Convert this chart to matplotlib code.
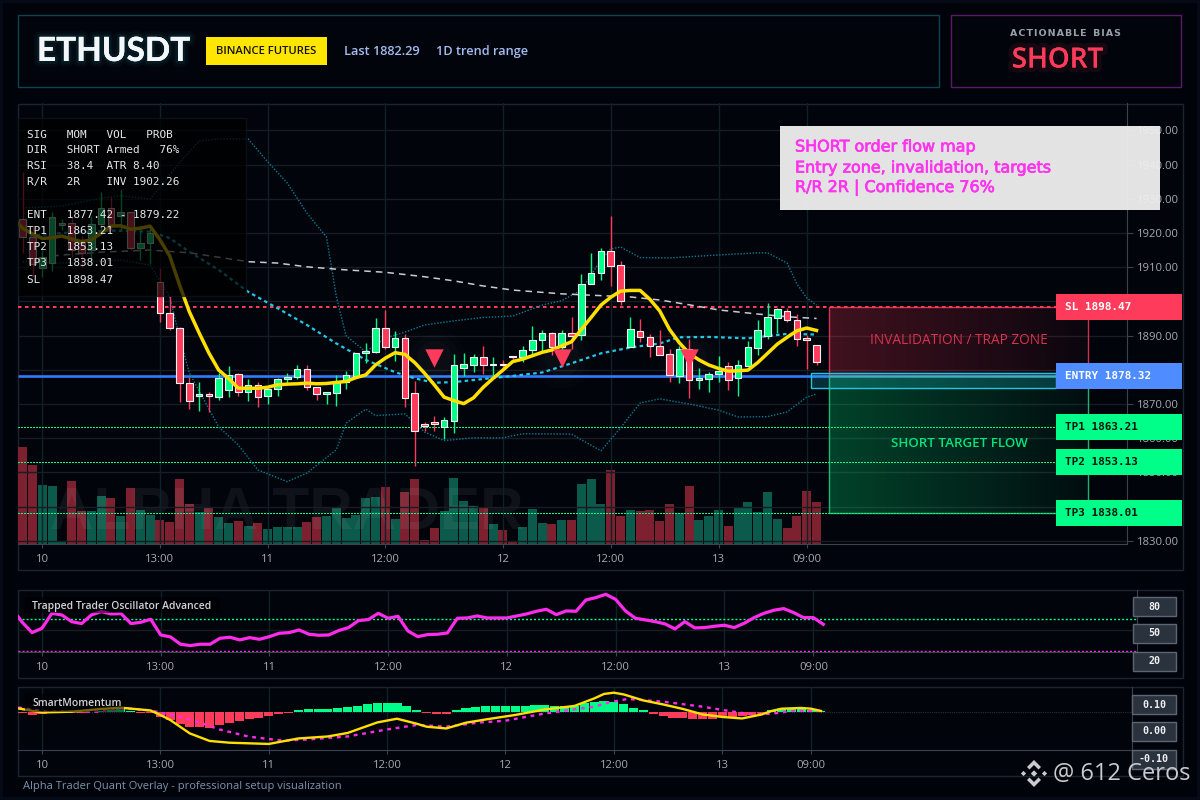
#%% Imports
import numpy as np
import matplotlib
matplotlib.use("Agg")
import matplotlib.pyplot as plt
import matplotlib.patheffects as pe
from matplotlib.patches import Rectangle, Polygon

#%% Data

# OHLC of the 82 candles
opens = [1924.1,1918.8,1909.8,1911.2,1922.2,1923,1917,1915,1922.6,1927.3,
         1925,1926,1915.6,1917,1905.8,1896.6,1892.3,1876,1872.2,1872.8,
         1872,1874,1878.7,1873.5,1875.5,1872.2,1874.4,1877.3,1877.8,1880.2,
         1875,1873,1873.3,1876.4,1878.3,1884.8,1885.3,1892.1,1886.8,1889.2,
         1873.1,1864,1864.7,1863.2,1865.1,1880.6,1881.5,1883.7,1881.5,1881.6,
         1884,1883.6,1885.7,1888.6,1890.7,1886.8,1890.7,1890.1,1905,1908.2,
         1914.8,1910.5,1886.8,1891.4,1889.7,1887,1884.5,1878.3,1886,1877,
         1877.4,1878.7,1881,1877.7,1881.2,1886.5,1890,1895,1897.3,1894.5,
         1889.3,1887.2]
closes = [1918.8,1910.9,1913,1924.7,1923,1915,1914,1922.6,1927.3,1922.4,
          1926.1,1915.6,1917,1920,1896.6,1892.2,1876,1871,1872.8,1872.2,
          1877.6,1878.5,1873.4,1875.6,1872.1,1874.4,1877.3,1878,1880.2,1875,
          1873,1873.5,1876.4,1878.4,1884.8,1885.4,1892.1,1886.8,1889.2,1871.8,
          1862,1863.5,1864,1865.3,1881.3,1881.6,1883.7,1881.5,1881.6,1881.4,
          1883.6,1885.7,1888.6,1890.7,1886.8,1890.7,1890,1905,1908.2,1914.8,
          1910.4,1900.2,1891.8,1889.7,1887,1884.4,1878.6,1886,1877,1877.6,
          1878.7,1879.6,1877,1881.3,1886.6,1891.5,1895.3,1897.7,1894.5,1889,
          1888.8,1882.29]
highs = [1937.9,1922,1915,1926,1924,1925,1919,1925,1932,1930.5,
         1933,1926.5,1922,1921.5,1909.8,1901.6,1892.5,1878,1876.4,1873.6,
         1879,1881,1879,1877.4,1876.5,1874.7,1877.6,1879,1881.4,1881.3,
         1875,1873.6,1878.5,1879.6,1885,1887.7,1895.1,1897.5,1891.3,1890.5,
         1876.8,1864.7,1866.5,1866.2,1884.6,1884.8,1884.6,1887,1883.7,1882.9,
         1884,1887,1892.8,1891.6,1891,1891.5,1895.3,1908,1914.2,1915.6,
         1925,1911.8,1895.4,1894.8,1890.5,1891.5,1886,1887,1889,1880.6,
         1879.3,1884,1882.3,1882.9,1888.4,1894.6,1899.5,1898.2,1898,1896.3,
         1890.2,1887.2]
lows = [1914.2,1907,1907,1909,1921,1913,1910,1911,1921,1921,
        1921,1915,1912,1911,1894,1891.6,1870.7,1868.5,1868,1867.7,
        1871.2,1872,1872.2,1870.9,1869,1870,1872.3,1876,1877.4,1874,
        1871.2,1870,1869.5,1874.4,1877.5,1882,1885,1886.2,1882.7,1869,
        1852,1862,1862,1859.9,1861.6,1878.3,1879.4,1878.8,1877.6,1880,
        1882.6,1882.4,1884.3,1885.3,1884.3,1885,1886,1888.7,1905,1906.3,
        1904.5,1899,1886.8,1888.1,1883.7,1884.4,1876.5,1876,1871.8,1874.4,
        1873.5,1876.4,1874,1872.2,1881,1884.3,1889,1890.8,1894,1887,
        1880.2,1881.5]
volumes = [97,79.3,59.3,58.3,2.7,63.3,33.3,33.3,48.3,46.3,
           28.3,56.3,34.3,29.3,24.3,22.3,65.3,40.3,32.3,36.3,
           27.3,21.3,23.3,18.3,21.3,15.3,17.3,17.3,17.3,22.3,
           27.3,28.3,37.3,26.3,29.3,46.3,47.3,57.3,25.3,52.3,
           65.3,4.3,16.3,33.3,66.3,43.3,38.3,36.3,20.3,14.3,
           2.3,17.3,35.3,21.3,20.3,24.3,24.3,60.3,65.3,40.3,
           74.3,28.3,34.3,33.3,34.3,23.3,40.3,31.3,58.3,24.3,
           28.3,34.3,18.3,37.3,42.3,32.3,52.3,25.3,16.3,28.3,
           53.3,42.3]

# fast average, one value a candle, plus the stub at the left edge
ema_fast = [1922.6,1921.4,1919.7,1918.4,1918.6,1919.1,1918.2,1917.5,1918,1919.9,1922,
            1922.1,1921.1,1921.4,1922,1918,1913.3,1904.8,1897,1890.8,1884.9,
            1879.9,1877.5,1874.6,1874.6,1874.6,1874.9,1875.6,1875.8,1875.9,1876.1,
            1875.9,1876,1876.3,1876.6,1877.7,1878.5,1881.4,1883.4,1885,1884.5,
            1882.1,1879,1875.6,1872,1871,1870.1,1871.8,1874.9,1877.5,1879.9,
            1882.4,1883.1,1884.1,1885.1,1885.8,1887,1888.2,1891.8,1895.3,1898.9,
            1901.2,1903,1903.2,1903.2,1900.6,1897.2,1891.8,1887.9,1884.8,1882.9,
            1881.4,1880.4,1879.6,1879.7,1879.9,1882.1,1884.8,1887.5,1889.5,1891.4,
            1892.2,1891.5]

# slow cyan average
ema_slow_idx = [0,4,9,13,15,17,20,23,26,29,32,35,38,40,42,44,47,50,53,56,59,62,65,67,70,74,78,81]
ema_slow = [1919,1920,1920.7,1920.4,1918.5,1914.5,1909.2,1902.8,1898,1893.1,1887.7,1882.9,1879.3,
            1877.5,1876.2,1876.4,1877.3,1878.2,1879.2,1881.9,1884.8,1886.5,1887.7,1889.5,1889.6,
            1889.2,1890.5,1890.3]

# grey long average
ema_long_idx = [3,8,13,17,23,26,29,33,37,41,44,47,50,55,58,62,65,68,71,75,78,81]
ema_long = [1913.3,1914.4,1915,1914.2,1911.6,1911.2,1910.1,1909.2,1908.5,1907.2,1906,1904.5,1903.3,
            1902.2,1901.8,1901.3,1900.4,1899,1897.5,1896.3,1895.5,1895]

# bands
upper_idx = [0,4,7.5,10,13,14,16,18,20,23,25,27,29,31,32,33,35,37,39,41,44,47,50,53,55,57,59,60,61,
             63,66,70,75,76,78,79,80,81]
upper_band = [1927.3,1927.9,1929.9,1930.9,1929.9,1933.5,1940.5,1946.9,1947.5,1947.5,1940.8,1934.6,
              1925.8,1918.8,1901.4,1889.9,1885.3,1889.3,1891,1893.1,1894.3,1895.3,1895.7,1898.9,
              1900.2,1903.3,1912.1,1915.3,1915.9,1912.8,1912.7,1913.4,1914.2,1914.2,1911.2,1905.1,
              1901,1898.9]
lower_idx = [0,4,10,13,15,16,17,20,22,24,27,29,32,33,35,36,39,41,43,46,49,51,56,59,61,63,65,68,71,
             73,76,78,80,81]
lower_band = [1911.6,1911.2,1912.1,1910.6,1901.3,1889.6,1879.1,1863.3,1858,1850.7,1847.3,1849.8,
              1856.6,1864.4,1868.5,1866.6,1867.1,1861.8,1859.3,1860.1,1860.1,1861.3,1861.2,1856.3,
              1863,1870.3,1871.5,1870,1868.2,1866.2,1866.3,1867.7,1872,1872.9]

# signals and levels
signal_idx = [42,55,68]
signal_price = [1883.5,1883.5,1883.5]
sl_level = 1898.47
entry_level = 1878.32
tp_levels = [1863.21,1853.13,1838.01]
entry_zone_top = 1879.2
entry_zone_bottom = 1874.8

# oscillator, one value a candle, plus the stub at the left edge
oscillator = [73.4,66.2,53,58.5,77.6,75.5,67,64.5,75.5,79.8,76.8,
              77.2,64.5,66.2,70,50,47.5,38.2,36.5,38.2,38.2,
              45.8,47.1,43.7,46.6,44.5,47.9,52.2,53,56.4,50.9,
              49.6,50,55.6,59.4,68.3,69.6,77.6,71.3,73.8,55.1,
              47.9,50.5,50.9,52.6,71.3,71.7,74.2,71.7,71.7,71.7,
              74.2,76.8,80.2,82.7,75.9,80.6,80.2,94.6,97.6,101.8,
              95.4,80.6,71.3,69.2,67,64.1,57.7,67,59,59.4,
              61.1,62.4,59.4,64.9,72.1,77.6,81.5,83.6,78.5,72.1,
              72.1,63.6]

# momentum
momentum_hist = [-.004,-.013,-.011,-.007,-.003,-.003,-.007,-.003,.003,.007,
                 .011,.003,-.005,-.007,-.02,-.033,-.051,-.063,-.063,-.067,
                 -.053,-.045,-.037,-.029,-.024,-.016,-.009,-.007,.005,.011,
                 .011,.011,.015,.02,.024,.029,.036,.036,.036,.024,
                 .007,-.005,-.008,-.009,.005,.015,.02,.023,.023,.023,
                 .023,.023,.027,.027,.023,.023,.023,.033,.037,.043,
                 .04,.031,.015,.007,-.009,-.017,-.025,-.025,-.029,-.029,
                 -.028,-.02,-.02,-.017,-.015,-.007,.007,.012,.011,.011,
                 .008,.003]
mom_idx = [-.4,2,5,8,10,13,14,15,17,19,21,25,28,31,33,36,38,40,41,43,45,47,50,53,56,58,59,60,61,
           63,65,67,69,71,73,74,75,76,77,79,80,81]
mom_line = [.013,-.003,0,.011,.016,.005,-.013,-.033,-.087,-.117,-.124,-.129,-.107,-.099,-.085,-.043,
            -.028,-.048,-.06,-.067,-.044,-.031,-.013,.009,.023,.053,.071,.076,.069,.045,.029,.011,
            -.011,-.021,-.027,-.019,-.011,.003,.012,.015,.012,.003]
sig_idx = [-.4,2.5,7.5,10.5,13,16,18,20,23,26.5,29,33,36.7,40,43,46.4,49,53,58,59.5,61.4,65,69,71,74,76,78,81]
sig_line = [.017,0,0,.013,.005,-.02,-.043,-.071,-.1,-.116,-.111,-.099,-.073,-.053,-.06,-.043,-.036,
            -.007,.02,.037,.051,.04,.02,.007,-.011,-.008,.003,.003]

tick_idx = [2,14,25,37,49,60,71,80]
tick_labels = ["10","13:00","11","12:00","12","12:00","13","09:00"]
price_ticks = [1830,1840,1850,1860,1870,1880,1890,1900,1910,1920,1930,1940,1950]

info_lines = ["SIG   MOM   VOL   PROB", "DIR   SHORT Armed   76%", "RSI   38.4  ATR 8.40",
              "R/R   2R    INV 1902.26", "ENT   1877.42 - 1879.22", "TP1   1863.21",
              "TP2   1853.13", "TP3   1838.01", "SL    1898.47"]
info_y = [134.5,150,166,182.5,215,231,247,263,280]
note_lines = ["SHORT order flow map", "Entry zone, invalidation, targets", "R/R 2R | Confidence 76%"]
note_y = [147,168,188]

#%% Style

BG = "#01030a"
GREEN = "#00ff88"
RED = "#ff3b5c"
BLUE = "#2f7bff"
YELLOW = "#ffe000"
MAGENTA = "#ff2bea"
CYAN = "#22c8e8"
TEAL = "#0b7a92"
AXIS = "#3a4450"
HGRID = "#181d24"
VGRID = "#0d2229"
LABEL = "#a4abb3"
UI_FONT = "Open Sans"
DOT = (0, (1.9, 1.9))

W, H = 1200, 800
fig = plt.figure(figsize=(W / 100, H / 100), dpi=100, facecolor="#050b16")

def px_axes(left, top, right, bottom, zorder):
    ax = fig.add_axes([left / W, 1 - bottom / H, (right - left) / W, (bottom - top) / H], zorder=zorder)
    ax.patch.set_alpha(0)
    return ax

def style_panel(ax, ticks=True):
    for side in ["top", "left"]:
        ax.spines[side].set_visible(False)
    for side in ["bottom", "right"]:
        ax.spines[side].set_color(AXIS)
    ax.set_xticks(tick_idx)
    ax.set_xticklabels(tick_labels, fontfamily=UI_FONT)
    ax.tick_params(axis="x", colors=AXIS, labelcolor=LABEL, labelsize=8.1, length=3, pad=4)
    ax.tick_params(axis="y", right=False, left=False, labelleft=False)
    for i in tick_idx:
        ax.axvline(i, color=VGRID, lw=1, zorder=0)

# pixel canvases, below and above the plots
bg = px_axes(0, 0, W, H, 0)
ov = px_axes(0, 0, W, H, 20)
for a in (bg, ov):
    a.set_xlim(0, W)
    a.set_ylim(H, 0)
    a.axis("off")

bg.add_patch(Rectangle((3, 3), W - 6, H - 6, fc=BG, ec="none"))
for x0, y0, x1, y1, ec in [(18, 15, 938.5, 86.7, "#0e4350"), (951, 15, 1180.5, 86.7, "#5a1a6a"),
                           (17.5, 103.5, 1182.5, 570, "#1a2530"), (17.5, 590, 1182.5, 678, "#1a2530"),
                           (17.5, 687, 1182.5, 776, "#1a2530")]:
    bg.add_patch(Rectangle((x0, y0), x1 - x0, y1 - y0, fc="#02040b", ec=ec, lw=1))

#%% Main panel

n = len(opens)
idx = np.arange(n)
o, c, hi, lo = map(np.array, (opens, closes, highs, lows))
up = c >= o
xlim_main = (-0.48, 112.65)
ylim_main = (1829.06, 1958)

# volume sits in its own axes under the price axes, scaled so one unit is one pixel
ax_vol = px_axes(18, 103, 1126.7, 544, 1)
ax_vol.set_xlim(*xlim_main)
ax_vol.set_ylim(0, 441)
ax_vol.axis("off")
ax_vol.bar(idx, volumes, width=0.91, color=np.where(up, "#0b5a4b", "#7d2130"))
ax_vol.text(2.8, 3, "ALPHA TRADER", fontsize=43.5, fontweight="bold", family="Liberation Sans",
            color="white", alpha=0.06, va="bottom", ha="left")

ax = px_axes(18, 103, 1126.7, 544, 2)
style_panel(ax)
ax.set_xlim(*xlim_main)
ax.set_ylim(*ylim_main)
ax.yaxis.tick_right()
ax.set_yticks(price_ticks)
ax.set_yticklabels([f"{p:.2f}" for p in price_ticks], fontfamily=UI_FONT)
ax.tick_params(axis="y", right=True, labelright=True, colors=AXIS, labelcolor=LABEL,
               labelsize=8.1, length=4, pad=3)
for p in price_ticks:
    ax.axhline(p, color=HGRID, lw=1, zorder=0)

# zones, fading to the right
zone_start, zone_end = 82.26, 108.7
label_start, label_end = 105.44, 118.3
label_half = 3.8
entry_box_start = 80.44

def gradient_zone(rgb, a0, a1, y0, y1):
    grad = np.zeros((1, 256, 4))
    grad[..., :3] = matplotlib.colors.to_rgb(rgb)
    grad[..., 3] = np.linspace(a0, a1, 256)
    ax.imshow(grad, extent=(zone_start, zone_end, y0, y1), aspect="auto", zorder=1, origin="lower")

gradient_zone(RED, 0.25, 0.04, entry_level, sl_level)
gradient_zone(GREEN, 0.25, 0.04, tp_levels[2], entry_level)
ax.add_patch(Rectangle((zone_start, entry_level), zone_end - zone_start, sl_level - entry_level,
                       fc="none", ec=RED, lw=1, alpha=0.8, zorder=1.5))
ax.add_patch(Rectangle((zone_start, tp_levels[2]), zone_end - zone_start, entry_level - tp_levels[2],
                       fc="none", ec="#25d080", lw=1, alpha=0.85, zorder=1.5))
ax.set_xlim(*xlim_main)
ax.set_ylim(*ylim_main)

ax.text(95.55, 1888.7, "INVALIDATION / TRAP ZONE", color="#d8324e", fontsize=9.8, family=UI_FONT,
        ha="center", va="center", zorder=2)
ax.text(95.55, 1858.3, "SHORT TARGET FLOW", color="#00e47c", fontsize=9.6, fontweight="semibold",
        family=UI_FONT, ha="center", va="center", zorder=2)

# levels
ax.hlines(entry_level, xlim_main[0], label_start, color=BLUE, lw=1.9, zorder=1.2)
ax.hlines(sl_level, xlim_main[0], label_start, color=RED, lw=1.44, ls=(0, (1.75, 1.75)), zorder=3)
for lvl in tp_levels:
    ax.hlines(lvl, xlim_main[0], label_start, color=GREEN, lw=0.75, ls=DOT, antialiased=False, zorder=3)

ax.add_patch(Rectangle((entry_box_start, entry_zone_bottom), label_start - entry_box_start,
                       entry_zone_top - entry_zone_bottom, fc="#1fc8e0", alpha=0.22, ec="none", zorder=2))
ax.add_patch(Rectangle((entry_box_start, entry_zone_bottom), label_start - entry_box_start,
                       entry_zone_top - entry_zone_bottom, fc="none", ec="#1fc8e0", lw=1, zorder=2.1))

# bands and averages
ax.plot(upper_idx, upper_band, color=TEAL, lw=1, ls=(0, (1, 1.2)), zorder=3)
ax.plot(lower_idx, lower_band, color=TEAL, lw=1, ls=(0, (1, 1.2)), zorder=3)
ax.plot(ema_long_idx, ema_long, color="#c8ccd0", lw=1.1, ls=(0, (4.3, 3.3)), zorder=3)
ax.plot(ema_slow_idx, ema_slow, color=CYAN, lw=1.6, ls=(0, (1.6, 1.5)), zorder=3)

# candles
wick_colors = np.where(up, GREEN, RED)
ax.vlines(idx, lo, hi, colors=wick_colors, lw=1, zorder=4)
ax.bar(idx, np.abs(c - o), bottom=np.minimum(o, c), width=0.68, color=wick_colors,
       edgecolor="#f2f5f4", linewidth=0.8, zorder=4.1)

ax.plot(np.r_[-0.45, idx], ema_fast, color=YELLOW, lw=2.5, zorder=5, solid_joinstyle="round")

# short signals with a soft glow
for size, alpha in [(1900, 0.012), (1200, 0.016), (650, 0.02)]:
    ax.scatter(signal_idx, signal_price, s=size, color="#ffffff", alpha=alpha, lw=0, zorder=5.5)
ax.scatter(signal_idx, signal_price, s=175, marker="v", color=RED, lw=0, zorder=6)

# right side price tags
tags = [(sl_level, f"SL {sl_level}", RED, "white"), (entry_level, f"ENTRY {entry_level}", "#4f8cff", "white")]
for k, lvl in enumerate(tp_levels):
    tags.append((lvl, f"TP{k + 1} {lvl}", GREEN, "#03140c"))
for lvl, txt, fc, tc in tags:
    ax.add_patch(Rectangle((label_start, lvl - label_half), label_end - label_start, 2 * label_half,
                           fc=fc, ec="none", clip_on=False, zorder=8))
    ax.text(106.36, lvl, txt, color=tc, fontsize=7.9, fontweight="bold", family="DejaVu Sans Mono",
            va="center", ha="left", clip_on=False, zorder=9)

#%% Oscillator panel

ax_osc = px_axes(18, 590, 1136.5, 652, 2)
style_panel(ax_osc)
ax_osc.set_xlim(-0.425, 112.67)
ax_osc.set_ylim(28.3, 107.3)
ax_osc.axhline(56.4, color=HGRID, lw=1, zorder=0)
ax_osc.axhline(70, color=GREEN, lw=1, ls=(0, (1.45, 1.45)), zorder=1)
ax_osc.axhline(30, color=MAGENTA, lw=1, ls=(0, (1.45, 1.45)), zorder=1)
ax_osc.plot(np.r_[-0.42, idx], oscillator, color=MAGENTA, lw=2.3, zorder=3)

#%% Momentum panel

ax_mom = px_axes(18, 687, 1132, 750, 2)
style_panel(ax_mom)
ax_mom.set_xlim(-0.436, 112.55)
ax_mom.set_ylim(-0.1532, 0.0988)
ax_mom.axhline(0, color="#2a3038", lw=0.8, ls=(0, (1, 1)), zorder=0)
hist = np.array(momentum_hist)
ax_mom.bar(idx, hist, width=0.92, color=np.where(hist >= 0, GREEN, RED), zorder=2)
ax_mom.plot(sig_idx, sig_line, color=MAGENTA, lw=1.7, ls=(0, (1.6, 2)), zorder=3)
ax_mom.plot(mom_idx, mom_line, color=YELLOW, lw=1.7, zorder=4)

#%% Overlays in pixel coordinates

# info table
ov.add_patch(Rectangle((18, 118), 228, 178, fc="black", alpha=0.72, ec="#11161c", lw=1))
for y, line in zip(info_y, info_lines):
    ov.text(27, y, line, color="#e8e8e8", fontsize=7.9, family="DejaVu Sans Mono", va="center", ha="left")

# note box
ov.add_patch(Rectangle((780, 126), 380, 84, fc="#f0f0f0", alpha=0.95, ec="none"))
for y, line in zip(note_y, note_lines):
    note = ov.text(795, y, line, color="#ff33f0", fontsize=11.5, family="DejaVu Sans", va="center", ha="left")
    note.set_path_effects([pe.withStroke(linewidth=0.5, foreground="#ff33f0")])

# header
title = ov.text(37, 51.5, "ETHUSDT", color="#f4f7fa", fontsize=24, fontweight="bold", family="Lato",
                va="center", ha="left")
title.set_path_effects([pe.withStroke(linewidth=8, foreground="#0a3a44", alpha=0.14),
                        pe.withStroke(linewidth=4, foreground="#0f5a66", alpha=0.2), pe.Normal()])
ov.add_patch(Rectangle((206, 37), 121, 27.7, fc="#ffe600", ec="none"))
ov.text(266.5, 51, "BINANCE FUTURES", color="#15120a", fontsize=8.1, fontweight="semibold", family=UI_FONT,
        va="center", ha="center")
ov.text(344, 51.5, "Last 1882.29", color="#a4bcf0", fontsize=9.2, fontweight="semibold", family=UI_FONT,
        va="center", ha="left")
ov.text(435.5, 51.5, "1D trend range", color="#a4bcf0", fontsize=9.2, fontweight="semibold", family=UI_FONT,
        va="center", ha="left")
ov.text(1065.7, 34, "A C T I O N A B L E  B I A S".replace(" ", "\u200a").replace("\u200a\u200a", "  "),
        color="#98a0aa", fontsize=6.8, fontweight="semibold", family="DejaVu Sans", va="center", ha="center")
short = ov.text(1057.5, 60, "SHORT", color=RED, fontsize=20, fontweight="semibold", family=UI_FONT,
                va="center", ha="center")
short.set_path_effects([pe.withStroke(linewidth=7, foreground=RED, alpha=0.08), pe.Normal()])

# panel captions
for x0, y0, x1, y1, label, lx, ly in [(25, 597, 220, 613, "Trapped Trader Oscillator Advanced", 32, 606),
                                      (25, 694, 124, 712, "SmartMomentum", 32, 704)]:
    ov.add_patch(Rectangle((x0, y0), x1 - x0, y1 - y0, fc="black", alpha=0.55, ec="none"))
    ov.text(lx, ly, label, color="#d0d4d8", fontsize=7.5, fontweight="semibold", family=UI_FONT,
            va="center", ha="left")

# value boxes, the zero tick of the momentum scale stays mostly under the 0.10 box
ov.text(1154, 711.5, "0.00", color="#8f96a0", fontsize=7.2, family="DejaVu Sans Mono", va="center", ha="center",
        zorder=3)
for x0, y0, y1, txt in [(1133, 597.3, 615.7, "80"), (1133, 624, 642.7, "50"), (1133, 652.3, 670.7, "20"),
                        (1132, 695.3, 713.7, "0.10"), (1132, 722.3, 740.7, "0.00"), (1132, 750.3, 768.7, "-0.10")]:
    ov.add_patch(Rectangle((x0, y0), 1176 - x0, y1 - y0, fc="#2a323d", ec="#5c6672", lw=1, zorder=4))
    ov.text((x0 + 1176) / 2, (y0 + y1) / 2, txt, color="#eef0f2", fontsize=7.2, fontweight="bold",
            family="DejaVu Sans Mono", va="center", ha="center", zorder=5)

ov.text(23, 787, "Alpha Trader Quant Overlay - professional setup visualization", color="#7c93ad",
        fontsize=8.0, family=UI_FONT, va="center", ha="left")

# corner watermark: rhombus logo and handle
logo_x, logo_y = 1034, 773.5
LOGO = "#c9cbce"
for dx, dy, r in [(0, 0, 3.2), (-10.5, 0, 2.6), (10.5, 0, 2.6)]:
    ov.add_patch(Polygon([(logo_x + dx - r, logo_y + dy), (logo_x + dx, logo_y + dy - r),
                          (logo_x + dx + r, logo_y + dy), (logo_x + dx, logo_y + dy + r)], fc=LOGO, ec="none", zorder=6))
for s in (-1, 1):
    ov.add_patch(Polygon([(logo_x - 7, logo_y + s * 6.5), (logo_x, logo_y + s * 13.5), (logo_x + 7, logo_y + s * 6.5),
                          (logo_x + 4.5, logo_y + s * 4), (logo_x, logo_y + s * 8.5), (logo_x - 4.5, logo_y + s * 4)],
                         fc=LOGO, ec="none", zorder=6))
ov.text(1053, 774, "@ 612 Ceros", color=LOGO, fontsize=17, family=UI_FONT, va="center", ha="left", zorder=6)

fig.savefig("out.png", dpi=100, facecolor=fig.get_facecolor())
